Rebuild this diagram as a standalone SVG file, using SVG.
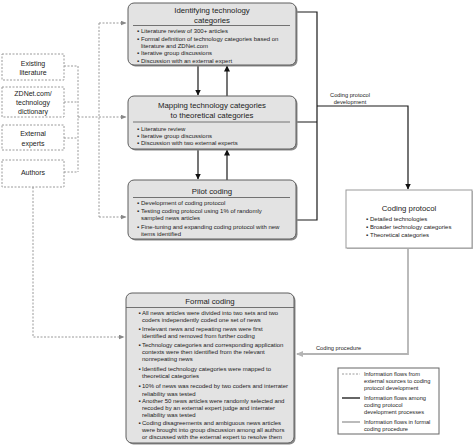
<svg xmlns="http://www.w3.org/2000/svg" width="474" height="446" viewBox="0 0 474 446">
<defs>
<style>
text{font-family:"Liberation Sans",Arial,sans-serif;fill:#222}
.t{font-size:7.8px;text-anchor:middle}
.b{font-size:6px}
.s{font-size:7px;text-anchor:middle}
.l{font-size:5.7px}
.box{fill:#e3e3e3;stroke:#5e5e5e;stroke-width:1}
.sh{fill:#8a8a8a}
.sep{stroke:#555;stroke-width:0.8}
.src{fill:#fff;stroke:#9a9a9a;stroke-width:1;stroke-dasharray:2,1.5}
.dash{fill:none;stroke:#9a9a9a;stroke-width:1;stroke-dasharray:2,1.5}
.blk{fill:none;stroke:#1a1a1a;stroke-width:1.2}
.gry{fill:none;stroke:#b4b4b4;stroke-width:1.8}
</style>
<marker id="ab" markerWidth="6" markerHeight="6" refX="5.5" refY="3" orient="auto" markerUnits="userSpaceOnUse"><path d="M0,0 L6,3 L0,6 Z" fill="#111"/></marker>
<marker id="ad" markerWidth="6" markerHeight="5" refX="5.5" refY="2.5" orient="auto" markerUnits="userSpaceOnUse"><path d="M0,0 L6,2.5 L0,5 Z" fill="#888"/></marker>
<marker id="ag" markerWidth="7" markerHeight="6" refX="6" refY="3" orient="auto" markerUnits="userSpaceOnUse"><path d="M0,0 L7,3 L0,6 Z" fill="#b4b4b4"/></marker>
</defs>

<g id="connectors">
<path class="dash" d="M64,66 H78 M64,102 H78 M64,138 H78 M64,172 H78 M78,66 V172"/>
<path class="dash" d="M78,117 H126" marker-end="url(#ad)"/>
<path class="dash" d="M99,23 V217"/>
<path class="dash" d="M99,23 H126" marker-end="url(#ad)"/>
<path class="dash" d="M99,217 H126" marker-end="url(#ad)"/>
<path class="dash" d="M33,187 V337 H124" marker-end="url(#ad)"/>
<path class="blk" d="M198,65 V95" marker-end="url(#ab)"/>
<path class="blk" d="M227,96 V66" marker-end="url(#ab)"/>
<path class="blk" d="M198,149 V179" marker-end="url(#ab)"/>
<path class="blk" d="M227,180 V150" marker-end="url(#ab)"/>
<path class="blk" d="M296,12 H317 V220 H296 M296,122 H317"/>
<path class="blk" d="M317,106 H408 V189" marker-end="url(#ab)"/>
<path class="gry" d="M408,248 V354 H297" marker-end="url(#ag)"/>
<text class="l" x="350" y="97" text-anchor="middle">Coding protocol</text>
<text class="l" x="350" y="104" text-anchor="middle">development</text>
<text class="l" x="316" y="350">Coding procedure</text>
</g>

<g id="src-literature">
<rect class="src" x="2" y="54" width="62" height="26"/>
<text class="s" x="33" y="65.5">Existing</text>
<text class="s" x="33" y="74.5">literature</text>
</g>
<g id="src-zdnet">
<rect class="src" x="2" y="87" width="62" height="30"/>
<text class="s" x="33" y="95.5">ZDNet.com/</text>
<text class="s" x="33" y="104.5">technology</text>
<text class="s" x="33" y="113.5">dictionary</text>
</g>
<g id="src-experts">
<rect class="src" x="2" y="125" width="62" height="25"/>
<text class="s" x="33" y="135.5">External</text>
<text class="s" x="33" y="145.5">experts</text>
</g>
<g id="src-authors">
<rect class="src" x="2" y="160" width="62" height="27"/>
<text class="s" x="33" y="175">Authors</text>
</g>

<g id="identifying">
<rect class="sh" x="129.5" y="4.5" width="168" height="62" rx="6"/>
<rect class="box" x="128" y="3" width="168" height="62" rx="6"/>
<text class="t" x="212" y="13">Identifying technology</text>
<text class="t" x="212" y="23">categories</text>
<line class="sep" x1="133" y1="25.5" x2="290" y2="25.5"/>
<g class="b">
<text x="137" y="33">▪<tspan x="141">Literature review of 300+ articles</tspan></text>
<text x="137" y="40.5">▪<tspan x="141">Formal definition of technology categories based on</tspan></text>
<text x="141" y="47.5">literature and ZDNet.com</text>
<text x="137" y="55">▪<tspan x="141">Iterative group discussions</tspan></text>
<text x="137" y="62.5">▪<tspan x="141">Discussion with an external expert</tspan></text>
</g>
</g>

<g id="mapping">
<rect class="sh" x="129.5" y="97.5" width="168" height="53" rx="6"/>
<rect class="box" x="128" y="96" width="168" height="53" rx="6"/>
<text class="t" x="212" y="108">Mapping technology categories</text>
<text class="t" x="212" y="118">to theoretical categories</text>
<line class="sep" x1="133" y1="122" x2="290" y2="122"/>
<g class="b">
<text x="137" y="131">▪<tspan x="141">Literature review</tspan></text>
<text x="137" y="138">▪<tspan x="141">Iterative group discussions</tspan></text>
<text x="137" y="145">▪<tspan x="141">Discussion with two external experts</tspan></text>
</g>
</g>

<g id="pilot">
<rect class="sh" x="129.5" y="181.5" width="168" height="59" rx="6"/>
<rect class="box" x="128" y="180" width="168" height="59" rx="6"/>
<text class="t" x="212" y="194">Pilot coding</text>
<line class="sep" x1="133" y1="197.5" x2="290" y2="197.5"/>
<g class="b">
<text x="137" y="205">▪<tspan x="141">Development of coding protocol</tspan></text>
<text x="137" y="213">▪<tspan x="141">Testing coding protocol using 1% of randomly</tspan></text>
<text x="141" y="220">sampled news articles</text>
<text x="137" y="229">▪<tspan x="141">Fine-tuning and expanding coding protocol with new</tspan></text>
<text x="141" y="236">items identified</text>
</g>
</g>

<g id="protocol">
<rect x="347" y="191" width="126" height="58" fill="#bbb"/>
<rect x="346" y="190" width="126" height="58" fill="#fff" stroke="#999" stroke-width="1"/>
<text class="t" x="409" y="211">Coding protocol</text>
<g class="b">
<text x="366" y="221">▪<tspan x="370">Detailed technologies</tspan></text>
<text x="366" y="229">▪<tspan x="370">Broader technology categories</tspan></text>
<text x="366" y="237">▪<tspan x="370">Theoretical categories</tspan></text>
</g>
</g>

<g id="formal">
<rect class="sh" x="127.5" y="294.5" width="168" height="150" rx="6"/>
<rect class="box" x="126" y="293" width="168" height="150" rx="6"/>
<text class="t" x="210" y="304">Formal coding</text>
<line class="sep" x1="126" y1="307.5" x2="294" y2="307.5"/>
<g class="b">
<text x="138.5" y="315">▪<tspan x="142">All news articles were divided into two sets and two</tspan></text>
<text x="142" y="322">coders independently coded one set of news</text>
<text x="138.5" y="331">▪<tspan x="142">Irrelevant news and repeating news were first</tspan></text>
<text x="142" y="338">identified and removed from further coding</text>
<text x="138.5" y="347">▪<tspan x="142">Technology categories and corresponding application</tspan></text>
<text x="142" y="354">contexts were then identified from the relevant</text>
<text x="142" y="361">nonrepeating news</text>
<text x="138.5" y="370.5">▪<tspan x="142">Identified technology categories were mapped to</tspan></text>
<text x="142" y="378">theoretical categories</text>
<text x="138.5" y="388">▪<tspan x="142">10% of news was recoded by two coders and interrater</tspan></text>
<text x="142" y="395.5">reliability was tested</text>
<text x="138.5" y="403">▪<tspan x="142">Another 50 news articles were randomly selected and</tspan></text>
<text x="142" y="410">recoded by an external expert judge and interrater</text>
<text x="142" y="417">reliability was tested</text>
<text x="138.5" y="424.5">▪<tspan x="142">Coding disagreements and ambiguous news articles</tspan></text>
<text x="142" y="432">were brought into group discussion among all authors</text>
<text x="142" y="439">or discussed with the external expert to resolve them</text>
</g>
</g>

<g id="legend">
<rect x="338" y="368" width="101" height="66" fill="#fff" stroke="#666" stroke-width="1"/>
<line class="dash" x1="342" y1="374" x2="360" y2="374"/>
<line x1="342" y1="398" x2="360" y2="398" stroke="#333" stroke-width="1.5"/>
<line x1="342" y1="422" x2="360" y2="422" stroke="#b4b4b4" stroke-width="1.8"/>
<g class="l">
<text x="364" y="376">Information flows from</text>
<text x="364" y="383">external sources to coding</text>
<text x="364" y="390">protocol development</text>
<text x="364" y="400">Information flows among</text>
<text x="364" y="407">coding protocol</text>
<text x="364" y="414">development processes</text>
<text x="364" y="424">Information flows in formal</text>
<text x="364" y="431">coding procedure</text>
</g>
</g>
</svg>
